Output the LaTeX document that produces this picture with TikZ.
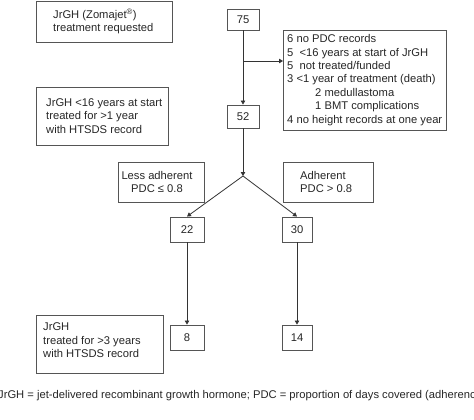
\documentclass[tikz,border=0pt]{standalone}
\usepackage{fontspec}
\setmainfont{Liberation Sans}
\usetikzlibrary{arrows.meta}
\definecolor{boxc}{HTML}{555555}
\definecolor{linec}{HTML}{333333}
\begin{document}
\begin{tikzpicture}[x=1pt,y=-1pt,
  every node/.style={font=\fontsize{11.2}{13.4}\selectfont, text=black!85},
  frame/.style={draw=boxc, line width=0.9pt, inner sep=0pt, anchor=north west},
  txt/.style={inner sep=0pt, align=left, anchor=west},
  numbox/.style={draw=boxc, line width=0.9pt, inner sep=0pt, minimum height=23pt},
  conn/.style={draw=linec, line width=0.8pt, -{Triangle[width=4.5pt,length=4pt]}}]
\useasboundingbox (0,0) rectangle (474,420);
\clip (0,0) rectangle (474,420);
% left descriptive boxes
\node[frame, minimum width=136pt, minimum height=41pt] (b1) at (36,1) {};
\node[txt] (b1t) at (53,21.5) {JrGH (Zomajet\textsuperscript{\textregistered})\\treatment requested};
\node[frame, minimum width=132pt, minimum height=58pt] (b2) at (36,87) {};
\node[txt] (b2t) at (46,116) {JrGH <16 years at start\\treated for >1 year\\with HTSDS record};
\node[frame, minimum width=127pt, minimum height=58pt] (b3) at (36,315) {};
\node[txt] (b3t) at (43,340.5) {JrGH\\treated for >3 years\\with HTSDS record};
% number boxes
\node[numbox, minimum width=32pt, minimum height=21pt] (n75) at (243,19.5) {75};
\node[numbox, minimum width=32pt] (n52) at (243,116.5) {52};
\node[numbox, minimum width=34pt, minimum height=25pt] (n22) at (187,229.5) {22};
\node[numbox, minimum width=30pt, minimum height=25pt] (n30) at (297,229.5) {30};
\node[numbox, minimum width=34pt, minimum height=25pt] (n8) at (187,337.5) {8};
\node[numbox, minimum width=30pt, minimum height=25pt] (n14) at (297,337.5) {14};
% exclusion box
\node[frame, minimum width=163pt, minimum height=100pt] (ex) at (283,30) {};
\node[txt] (ext) at (287,80)
  {6 no PDC records\\
   5\ \ <16 years at start of JrGH\\
   5\ \ not treated/funded\\
   3 <1\ year of treatment (death)\\
   \hspace*{28pt}2 medullastoma\\
   \hspace*{28pt}1 BMT complications\\
   4 no height records at one year};
% adherence boxes
\node[frame, minimum width=86pt, minimum height=40pt] (less) at (118,162) {};
\node[inner sep=0pt, align=center] (lesst) at (157,182) {Less adherent\\PDC ≤ 0.8};
\node[frame, minimum width=90pt, minimum height=40pt] (adh) at (283,162) {};
\node[txt] (adht) at (300,182) {Adherent\\PDC > 0.8};
% caption
\node[anchor=base west, inner sep=0pt] (cap) at (-2,398)
  {JrGH = jet-delivered recombinant growth hormone; PDC = proportion of days covered (adherence)};
% connectors
\coordinate (br) at (243,61);
\coordinate (split) at (243,176);
\draw[conn] (n75) -- (n52);
\draw[conn] (br) -- (br -| ex.west);
\draw[conn] (n52) -- (split);
\draw[conn] (split) -- (n22.north);
\draw[conn] (split) -- (n30.north);
\draw[conn] (n22) -- (n8);
\draw[conn] (n30) -- (n14);
\end{tikzpicture}
\end{document}
